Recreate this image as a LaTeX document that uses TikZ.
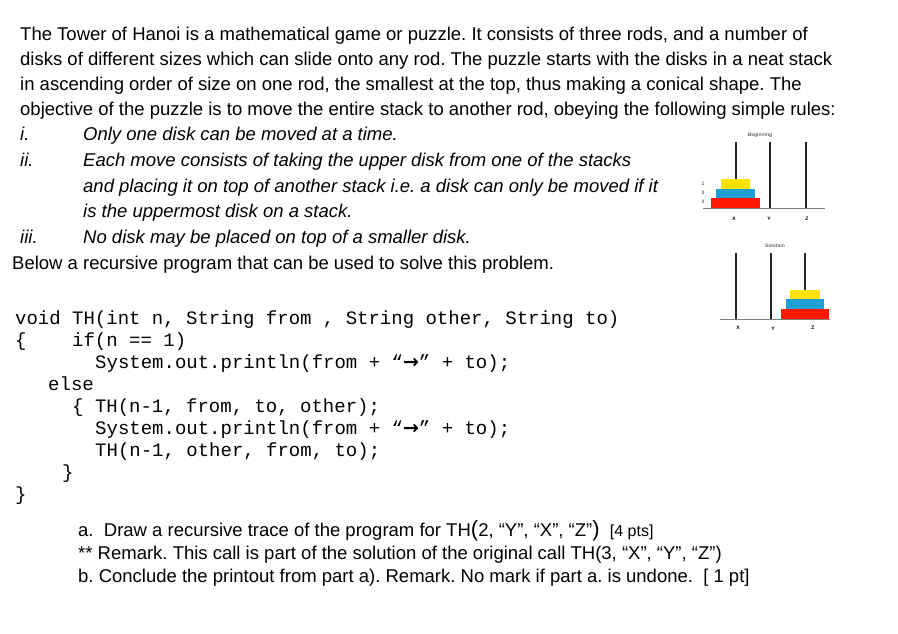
\documentclass[tikz,border=0pt]{standalone}
\usepackage{fontspec}
\setmainfont{Liberation Sans}
\newfontfamily\cmono{Liberation Mono}
\newfontfamily\djarrow{DejaVu Sans}
\frenchspacing
\begin{document}
\begin{tikzpicture}[x=1pt,y=-1pt,
  txt/.style={anchor=base west,inner sep=0pt,font=\fontsize{18.5}{20}\selectfont},
  itx/.style={txt,font=\fontsize{18.5}{20}\selectfont\itshape},
  code/.style={anchor=base west,inner sep=0pt,font=\fontsize{19}{20}\cmono},
  tiny/.style={inner sep=0pt,font=\fontsize{5}{6}\selectfont\bfseries,text=gray!80!black},
  rod/.style={line width=2pt,draw=black!85},
  base/.style={line width=0.6pt,draw=gray}]
\useasboundingbox (0,0) rectangle (898,633);
\node[txt] (l1) at (20,40) {The Tower of Hanoi is a mathematical game or puzzle. It consists of three rods, and a number of};
\node[txt] (l2) at (20,65) {disks of different sizes which can slide onto any rod. The puzzle starts with the disks in a neat stack};
\node[txt] (l3) at (20,90) {in ascending order of size on one rod, the smallest at the top, thus making a conical shape. The};
\node[txt] (l4) at (20,115) {objective of the puzzle is to move the entire stack to another rod, obeying the following simple rules:};
\node[itx] (r1) at (20,140) {i.};
\node[itx] (t1) at (83,140) {Only one disk can be moved at a time.};
\node[itx] (r2) at (20,166) {ii.};
\node[itx] (t2) at (83,166) {Each move consists of taking the upper disk from one of the stacks};
\node[itx] (t2b) at (83,192) {and placing it on top of another stack i.e. a disk can only be moved if it};
\node[itx] (t2c) at (83,217) {is the uppermost disk on a stack.};
\node[itx] (r3) at (20,243) {iii.};
\node[itx] (t3) at (83,243) {No disk may be placed on top of a smaller disk.};
\node[txt] (bl) at (12,269) {Below a recursive program that can be used to solve this problem.};
\node[code] (c1) at (15,324) {void TH(int n, String from , String other, String to)};
\node[code] (c2) at (15,346) {\{\ \ \ \ if(n == 1)};
\node[code] (c3) at (95,368) {System.out.println(from + “{\djarrow\bfseries →}” + to);};
\node[code] (c4) at (48,390) {else};
\node[code] (c5) at (72,412) {\{ TH(n-1, from, to, other);};
\node[code] (c6) at (95,434) {System.out.println(from + “{\djarrow\bfseries →}” + to);};
\node[code] (c7) at (95,456) {TH(n-1, other, from, to);};
\node[code] (c8) at (62,478) {\}};
\node[code] (c9) at (15,500) {\}};
\node[txt] (a) at (78,536) {a.\ \ Draw a recursive trace of the program for TH{\fontsize{22}{22}\selectfont(}2, “Y”, “X”, “Z”{\fontsize{22}{22}\selectfont)}\ \ {\fontsize{16}{18}\selectfont[4 pts]}};
\node[txt] (rm) at (78,559) {** Remark. This call is part of the solution of the original call TH(3, “X”, “Y”, “Z”)};
\node[txt] (b) at (78,582) {b. Conclude the printout from part a). Remark. No mark if part a. is undone.\ \ [ 1 pt]};
% Beginning
\node[tiny] (bg) at (760,135) {Beginning};
\draw[base] (703,208) -- (825,208);
\foreach \x in {736,770,806} \draw[rod] (\x,142) -- (\x,208);
\fill[red!80!orange] (711,198) rectangle (760,208);
\fill[cyan!70!teal] (716,189) rectangle (755,198);
\fill[yellow!85!orange] (721,179) rectangle (750,189);
\node[tiny] (n1) at (703,184) {1};
\node[tiny] (n2) at (703,193) {2};
\node[tiny] (n3) at (703,202) {3};
\node[tiny,text=black] (bx) at (734,219) {X};
\node[tiny,text=black] (by) at (769,219) {Y};
\node[tiny,text=black] (bz) at (807,219) {Z};
% Solution
\node[tiny] (sl) at (775,246) {Solution};
\draw[base] (720,319) -- (830,319);
\foreach \x in {736,771,805} \draw[rod] (\x,253) -- (\x,319);
\fill[red!80!orange] (781,309) rectangle (829,319);
\fill[cyan!70!teal] (786,299) rectangle (824,309);
\fill[yellow!85!orange] (790,290) rectangle (820,299);
\node[tiny,text=black] (sx) at (738,328) {X};
\node[tiny,text=black] (sy) at (773,329) {Y};
\node[tiny,text=black] (sz) at (813,328) {Z};
\end{tikzpicture}
\end{document}
